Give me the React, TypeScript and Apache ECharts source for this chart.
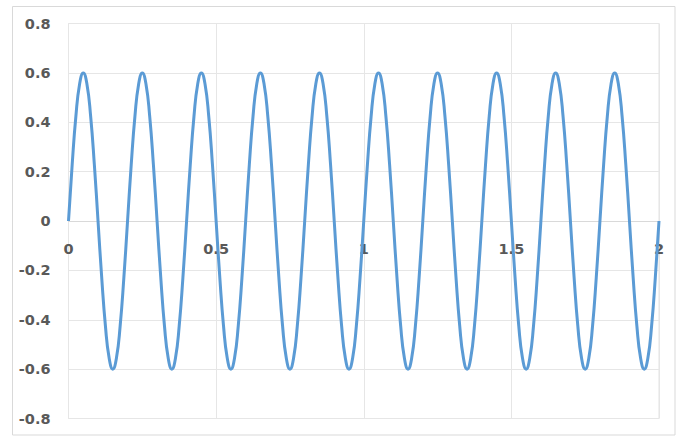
import React, { useEffect, useRef } from "react";
import * as echarts from "echarts";

const xValues: number[] = [
  0, 0.0125, 0.025, 0.0375, 0.05, 0.0625, 0.075, 0.0875,
  0.1, 0.1125, 0.125, 0.1375, 0.15, 0.1625, 0.175, 0.1875,
  0.2, 0.2125, 0.225, 0.2375, 0.25, 0.2625, 0.275, 0.2875,
  0.3, 0.3125, 0.325, 0.3375, 0.35, 0.3625, 0.375, 0.3875,
  0.4, 0.4125, 0.425, 0.4375, 0.45, 0.4625, 0.475, 0.4875,
  0.5, 0.5125, 0.525, 0.5375, 0.55, 0.5625, 0.575, 0.5875,
  0.6, 0.6125, 0.625, 0.6375, 0.65, 0.6625, 0.675, 0.6875,
  0.7, 0.7125, 0.725, 0.7375, 0.75, 0.7625, 0.775, 0.7875,
  0.8, 0.8125, 0.825, 0.8375, 0.85, 0.8625, 0.875, 0.8875,
  0.9, 0.9125, 0.925, 0.9375, 0.95, 0.9625, 0.975, 0.9875,
  1.0, 1.0125, 1.025, 1.0375, 1.05, 1.0625, 1.075, 1.0875,
  1.1, 1.1125, 1.125, 1.1375, 1.15, 1.1625, 1.175, 1.1875,
  1.2, 1.2125, 1.225, 1.2375, 1.25, 1.2625, 1.275, 1.2875,
  1.3, 1.3125, 1.325, 1.3375, 1.35, 1.3625, 1.375, 1.3875,
  1.4, 1.4125, 1.425, 1.4375, 1.45, 1.4625, 1.475, 1.4875,
  1.5, 1.5125, 1.525, 1.5375, 1.55, 1.5625, 1.575, 1.5875,
  1.6, 1.6125, 1.625, 1.6375, 1.65, 1.6625, 1.675, 1.6875,
  1.7, 1.7125, 1.725, 1.7375, 1.75, 1.7625, 1.775, 1.7875,
  1.8, 1.8125, 1.825, 1.8375, 1.85, 1.8625, 1.875, 1.8875,
  1.9, 1.9125, 1.925, 1.9375, 1.95, 1.9625, 1.975, 1.9875,
  2.0,
];

const yValues: number[] = [
  0, 0.2296, 0.4243, 0.5543, 0.6, 0.5543, 0.4243, 0.2296,
  0, -0.2296, -0.4243, -0.5543, -0.6, -0.5543, -0.4243, -0.2296,
  0, 0.2296, 0.4243, 0.5543, 0.6, 0.5543, 0.4243, 0.2296,
  0, -0.2296, -0.4243, -0.5543, -0.6, -0.5543, -0.4243, -0.2296,
  0, 0.2296, 0.4243, 0.5543, 0.6, 0.5543, 0.4243, 0.2296,
  0, -0.2296, -0.4243, -0.5543, -0.6, -0.5543, -0.4243, -0.2296,
  0, 0.2296, 0.4243, 0.5543, 0.6, 0.5543, 0.4243, 0.2296,
  0, -0.2296, -0.4243, -0.5543, -0.6, -0.5543, -0.4243, -0.2296,
  0, 0.2296, 0.4243, 0.5543, 0.6, 0.5543, 0.4243, 0.2296,
  0, -0.2296, -0.4243, -0.5543, -0.6, -0.5543, -0.4243, -0.2296,
  0, 0.2296, 0.4243, 0.5543, 0.6, 0.5543, 0.4243, 0.2296,
  0, -0.2296, -0.4243, -0.5543, -0.6, -0.5543, -0.4243, -0.2296,
  0, 0.2296, 0.4243, 0.5543, 0.6, 0.5543, 0.4243, 0.2296,
  0, -0.2296, -0.4243, -0.5543, -0.6, -0.5543, -0.4243, -0.2296,
  0, 0.2296, 0.4243, 0.5543, 0.6, 0.5543, 0.4243, 0.2296,
  0, -0.2296, -0.4243, -0.5543, -0.6, -0.5543, -0.4243, -0.2296,
  0, 0.2296, 0.4243, 0.5543, 0.6, 0.5543, 0.4243, 0.2296,
  0, -0.2296, -0.4243, -0.5543, -0.6, -0.5543, -0.4243, -0.2296,
  0, 0.2296, 0.4243, 0.5543, 0.6, 0.5543, 0.4243, 0.2296,
  0, -0.2296, -0.4243, -0.5543, -0.6, -0.5543, -0.4243, -0.2296,
  0,
];

const xAxisMin = 0;
const xAxisMax = 2;
const xAxisStep = 0.5;
const yAxisMin = -0.8;
const yAxisMax = 0.8;
const yAxisStep = 0.2;

const fmt = (v: number) => String(Math.round(v * 10) / 10);

const GRID_HEIGHT = 395;

export default function App() {
  const ref = useRef<HTMLDivElement>(null);

  useEffect(() => {
    if (!ref.current) return;
    const chart = echarts.init(ref.current, undefined, { renderer: "svg" });
    const labelFont = {
      fontFamily: "DejaVu Sans",
      fontWeight: "bold" as const,
      fontSize: 14.5,
      color: "#595959",
    };
    chart.setOption({
      animation: false,
      backgroundColor: "#ffffff",
      graphic: [
        {
          type: "rect",
          shape: { x: 12.5, y: 6.5, width: 662.5, height: 428.5 },
          style: { fill: "none", stroke: "#d9d9d9", lineWidth: 1 },
          silent: true,
        },
      ],
      grid: {
        left: 68.5,
        top: 23.5,
        width: 590.5,
        height: GRID_HEIGHT,
        show: true,
        borderColor: "#e3e3e3",
        borderWidth: 1,
        backgroundColor: "transparent",
      },
      xAxis: {
        type: "value",
        min: xAxisMin,
        max: xAxisMax,
        interval: xAxisStep,
        position: "bottom",
        offset: -GRID_HEIGHT / 2,
        axisLine: {
          show: true,
          onZero: false,
          lineStyle: { color: "#d9d9d9", width: 1 },
        },
        axisTick: { show: false },
        axisLabel: { ...labelFont, margin: 20, formatter: fmt, showMinLabel: true, showMaxLabel: true },
        splitLine: { show: true, lineStyle: { color: "#e6e6e6", width: 1 } },
        z: 1,
      },
      yAxis: {
        type: "value",
        min: yAxisMin,
        max: yAxisMax,
        interval: yAxisStep,
        axisLine: { show: false, onZero: false },
        axisTick: { show: false },
        axisLabel: { ...labelFont, margin: 18, formatter: fmt },
        splitLine: { show: true, lineStyle: { color: "#e6e6e6", width: 1 } },
      },
      series: [
        {
          type: "line",
          data: xValues.map((x, i) => [x, yValues[i]]),
          smooth: true,
          showSymbol: false,
          symbol: "none",
          lineStyle: { color: "#5B9BD5", width: 3 },
          z: 3,
        },
      ],
    });
    return () => chart.dispose();
  }, []);

  return (
    <div
      ref={ref}
      style={{ position: "fixed", left: 0, top: 0, width: 686, height: 444 }}
    />
  );
}
